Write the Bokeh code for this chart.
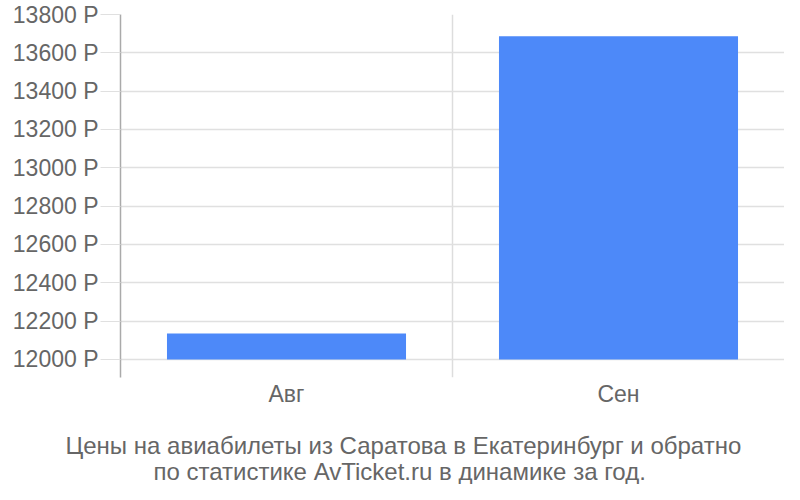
from bokeh.plotting import figure
from bokeh.models import Range1d, FixedTicker, PrintfTickFormatter, Title
from bokeh.embed import file_html
from bokeh.resources import INLINE

categories = ["Авг", "Сен"]
prices = [12135, 13686]
y_ticks = [12000, 12200, 12400, 12600, 12800, 13000, 13200, 13400, 13600, 13800]
title_lines = ["Цены на авиабилеты из Саратова в Екатеринбург и обратно",
               "по статистике AvTicket.ru в динамике за год."]
title_offsets = [-55, 33]
title_standoffs = [2, -4]
title_valign = ["bottom", "top"]

FONT = "Liberation Sans"
TXT = "#666666"

p = figure(width=784, height=484, output_backend="svg", toolbar_location=None,
           x_range=Range1d(0, len(categories)), y_range=Range1d(11906, 13800),
           min_border_left=120, min_border_right=0, min_border_top=14, min_border_bottom=0)
p.outline_line_color = None
p.background_fill_color = "white"

centers = [i + 0.5 for i in range(len(categories))]
p.vbar(x=centers, top=prices, bottom=y_ticks[0], width=0.72,
       fill_color="#4d89f9", line_color=None)

yax = p.yaxis[0]
yax.ticker = FixedTicker(ticks=y_ticks)
yax.formatter = PrintfTickFormatter(format="%d Р")
yax.axis_line_color = "#aaaaaa"
yax.axis_line_width = 1.5
yax.major_tick_line_color = "#e0e0e0"
yax.major_tick_out = 20
yax.major_tick_in = 0
yax.minor_tick_line_color = None
yax.major_label_standoff = 2
yax.major_label_text_font = FONT
yax.major_label_text_font_size = "23px"
yax.major_label_text_color = TXT

xax = p.xaxis[0]
xax.ticker = FixedTicker(ticks=centers)
xax.major_label_overrides = {c: n for c, n in zip(centers, categories)}
xax.axis_line_color = None
xax.major_tick_line_color = None
xax.minor_tick_line_color = None
xax.major_label_standoff = -3
xax.major_label_text_font = FONT
xax.major_label_text_font_size = "23px"
xax.major_label_text_color = TXT
# blank axis label used only as spacing between the category labels and the caption
xax.axis_label = " "
xax.axis_label_text_font_size = "10px"
xax.axis_label_standoff = 5

p.ygrid.ticker = FixedTicker(ticks=y_ticks)
p.ygrid.grid_line_color = "#e0e0e0"
p.ygrid.grid_line_width = 1.5
p.xgrid.ticker = FixedTicker(ticks=list(range(len(categories) + 1)))
p.xgrid.grid_line_color = "#dddddd"
p.xgrid.grid_line_width = 1.5

for line, off, so, va in zip(title_lines, title_offsets, title_standoffs, title_valign):
    p.add_layout(Title(text=line, align="left", offset=off, standoff=so,
                       vertical_align=va,
                       text_font=FONT, text_font_size="24px",
                       text_font_style="normal", text_color=TXT), "below")

open("out.html", "w").write(file_html(p, INLINE))
